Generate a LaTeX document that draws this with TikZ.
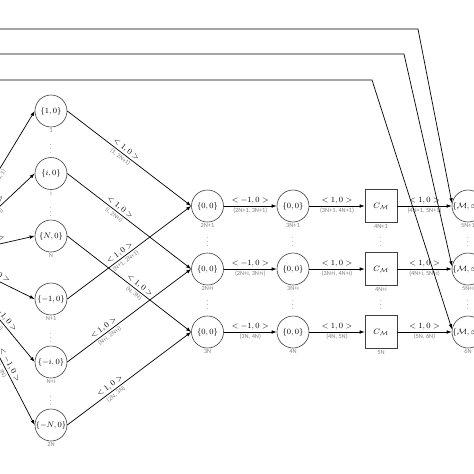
\documentclass[tikz,border=0pt]{standalone}
\usepackage{fontspec}
\newfontfamily\lblfont{Carlito}
\usetikzlibrary{arrows.meta}
\tikzset{
  st/.style={circle, draw=black!75, line width=0.6pt, minimum size=32pt, inner sep=0pt, font=\fontsize{8.5}{10}\selectfont},
  bx/.style={rectangle, draw=black!75, line width=0.6pt, minimum width=32pt, minimum height=33pt, inner sep=0pt, font=\fontsize{8.5}{10}\selectfont},
  idx/.style={font=\lblfont\fontsize{6.3}{7}\selectfont, text=black!50, inner sep=1pt, anchor=north},
  vd/.style={font=\fontsize{6}{7}\selectfont, inner sep=0pt},
  arr/.style={-{Latex[length=5pt,width=3.6pt]}, line width=0.7pt},
  wl/.style={font=\fontsize{8.5}{9}\selectfont, sloped, above, inner sep=1.5pt},
  gl/.style={font=\lblfont\fontsize{6.3}{7}\selectfont, text=black!50, sloped, below, inner sep=1.5pt}
}
\begin{document}
\begin{tikzpicture}[x=1pt,y=-1pt]
\useasboundingbox (0,0) rectangle (474,474);
\clip (0,0) rectangle (474,474);
% left column
\node[st] (L1)  at (51,111)   {$\{1,0\}$};
\node[st] (Li)  at (51,173.5) {$\{i,0\}$};
\node[st] (LN)  at (51,236)   {$\{N,0\}$};
\node[st] (Lm1) at (51,299)   {$\{-1,0\}$};
\node[st] (Lmi) at (51,362)   {$\{-i,0\}$};
\node[st] (LmN) at (51,425)   {$\{-N,0\}$};
\node[idx] (iL1)  at (L1.south)  {1};
\node[idx] (iLi)  at (Li.south)  {i};
\node[idx] (iLN)  at (LN.south)  {N};
\node[idx] (iLm1) at (Lm1.south) {N+1};
\node[idx] (iLmi) at (Lmi.south) {N+i};
\node[idx] (iLmN) at (LmN.south) {2N};
\node[vd] (d1) at (51,146) {$\vdots$};
\node[vd] (d2) at (51,209) {$\vdots$};
\node[vd] (d3) at (51,335) {$\vdots$};
\node[vd] (d4) at (51,398) {$\vdots$};
% middle columns
\foreach \r/\y/\a/\b/\c/\m in {1/206/2N+1/3N+1/4N+1/5N+1, 2/269/2N+i/3N+i/4N+i/5N+i, 3/332/3N/4N/5N/6N}{
  \node[st] (A\r) at (207.5,\y) {$\{0,0\}$};
  \node[st] (B\r) at (293,\y) {$\{0,0\}$};
  \node[bx] (C\r) at (381,\y) {$C_{\mathcal{M}}$};
  \node[st] (M\r) at (468,\y) {$\{\mathcal{M},\infty\}$};
  \node[idx] (iA\r) at (A\r.south) {\a};
  \node[idx] (iB\r) at (B\r.south) {\b};
  \node[idx] (iC\r) at (C\r.south) {\c};
  \node[idx] (iM\r) at (M\r.south) {\m};
}
\foreach \x/\n in {207.5/A, 293/B, 381/C, 468/M}{
  \node[vd] (v\n1) at (\x,239) {$\vdots$};
  \node[vd] (v\n2) at (\x,302) {$\vdots$};
}
% source (outside the picture)
\coordinate (src) at (-53,256);
\draw[arr] (src) -- node[wl,pos=0.57]{$<1,0>$} node[gl,pos=0.57]{(0, 1)} (L1.west);
\draw[arr] (src) -- node[wl,pos=0.55]{$<1,0>$} node[gl,pos=0.55]{(0, i)} (Li.west);
\draw[arr] (src) -- node[wl,pos=0.5]{$<1,0>$} node[gl,pos=0.5]{(0, N)} (LN.west);
\draw[arr] (src) -- node[wl,pos=0.5]{$<-1,0>$} node[gl,pos=0.5]{(0, N+1)} (Lm1.west);
\draw[arr] (src) -- node[wl,pos=0.6]{$<-1,0>$} node[gl,pos=0.6]{(0, N+i)} (Lmi.west);
\draw[arr] (src) -- node[wl,pos=0.66]{$<-1,0>$} node[gl,pos=0.66]{(0, 2N)} (LmN.west);
% left -> A
\draw[arr] (L1.east)  -- node[wl,pos=0.45]{$<1,0>$} node[gl,pos=0.45]{(1, 2N+1)} (A1.west);
\draw[arr] (Li.east)  -- node[wl,pos=0.4]{$<1,0>$} node[gl,pos=0.4]{(i, 2N+i)} (A2.west);
\draw[arr] (LN.east)  -- node[wl,pos=0.56]{$<1,0>$} node[gl,pos=0.56]{(N, 3N)} (A3.west);
\draw[arr] (Lm1.east) -- node[wl,pos=0.45]{$<1,0>$} node[gl,pos=0.45]{(N+1, 2N+1)} (A1.west);
\draw[arr] (Lmi.east) -- node[wl,pos=0.32]{$<1,0>$} node[gl,pos=0.32]{(N+i, 2N+i)} (A2.west);
\draw[arr] (LmN.east) -- node[wl,pos=0.37]{$<1,0>$} node[gl,pos=0.37]{(2N, 3N)} (A3.west);
% horizontal chains
\draw[arr] (A1) -- node[wl]{$<-1,0>$} node[gl]{(2N+1, 3N+1)} (B1);
\draw[arr] (A2) -- node[wl]{$<-1,0>$} node[gl]{(2N+i, 3N+i)} (B2);
\draw[arr] (A3) -- node[wl]{$<-1,0>$} node[gl]{(3N, 4N)} (B3);
\draw[arr] (B1) -- node[wl]{$<1,0>$} node[gl]{(3N+1, 4N+1)} (C1);
\draw[arr] (B2) -- node[wl]{$<1,0>$} node[gl]{(3N+i, 4N+i)} (C2);
\draw[arr] (B3) -- node[wl]{$<1,0>$} node[gl]{(4N, 5N)} (C3);
\draw[arr] (C1) -- node[wl]{$<1,0>$} node[gl]{(4N+1, 5N+1)} (M1);
\draw[arr] (C2) -- node[wl]{$<1,0>$} node[gl]{(4N+i, 5N+i)} (M2);
\draw[arr] (C3) -- node[wl]{$<1,0>$} node[gl]{(5N, 6N)} (M3);
% long feedback lines from the top
\coordinate (t1) at (-5,29);  \coordinate (k1) at (418,29);
\coordinate (t2) at (-5,54);  \coordinate (k2) at (404,54);
\coordinate (t3) at (-5,80);  \coordinate (k3) at (372,80);
\draw[arr] (t1) -- (k1) -- (M1.170);
\draw[arr] (t2) -- (k2) -- (M2.170);
\draw[arr] (t3) -- (k3) -- (M3.170);
\end{tikzpicture}
\end{document}
